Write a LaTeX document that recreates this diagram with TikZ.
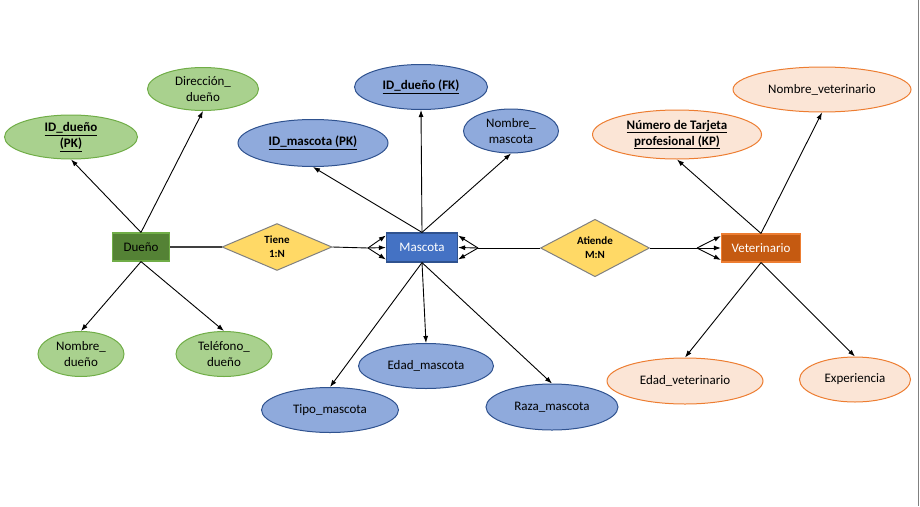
\documentclass[tikz,border=0pt]{standalone}
\usepackage{fontspec}
\setmainfont{Carlito}
\usetikzlibrary{shapes.geometric,arrows.meta}
\definecolor{grfill}{HTML}{A9D18E}
\definecolor{grline}{HTML}{70AD47}
\definecolor{grdark}{HTML}{548235}
\definecolor{blfill}{HTML}{8FAADC}
\definecolor{blline}{HTML}{2F528F}
\definecolor{bldark}{HTML}{4472C4}
\definecolor{orfill}{HTML}{FBE5D6}
\definecolor{orline}{HTML}{ED7D31}
\definecolor{ordark}{HTML}{C55A11}
\definecolor{relfill}{HTML}{FFD966}
\begin{document}
\begin{tikzpicture}[x=1pt, y=-1pt, line width=0.9pt, font=\fontsize{13}{16}\selectfont,
  ent/.style = {draw, rectangle, line width=1.2pt, minimum height=28pt},
  attr/.style = {draw, ellipse, align=center, inner sep=0pt, line width=1pt},
  grattr/.style = {attr, fill=grfill, draw=grline},
  blattr/.style = {attr, fill=blfill, draw=blline},
  orattr/.style = {attr, fill=orfill, draw=orline},
  key/.style = {font=\fontsize{13}{16}\selectfont\bfseries},
  rel/.style = {draw=gray, diamond, fill=relfill, align=center, inner sep=0pt, line width=1pt,
    font=\fontsize{11}{14}\selectfont\bfseries, minimum width=110pt, minimum height=46pt},
  arr/.style = {-{Latex[length=7pt,width=5pt]}}]
\useasboundingbox (0,0) rectangle (920,506);
\draw[gray, line width=1pt] (918.5,0) -- (918.5,506);

% Dueño
\node[ent, fill=grdark, draw=grline, minimum width=57pt] (dueno) at (141,247) {Dueño};
\node[grattr, key, minimum width=133pt, minimum height=44pt] (idd) at (71,137) {\underline{ID\_dueño}\\\underline{(PK)}};
\node[grattr, minimum width=111pt, minimum height=43pt] (dir) at (203,89) {Dirección\_\\dueño};
\node[grattr, minimum width=86pt, minimum height=45pt] (nomd) at (81,354) {Nombre\_\\dueño};
\node[grattr, minimum width=96pt, minimum height=45pt] (tel) at (224,354) {Teléfono\_\\dueño};

% Mascota
\node[ent, fill=bldark, draw=blline, text=white, minimum width=71pt, minimum height=29pt] (masc) at (422,247.5) {Mascota};
\node[blattr, key, minimum width=133pt, minimum height=45pt] (idfk) at (421,87) {\underline{ID\_dueño (FK)}};
\node[blattr, key, minimum width=150pt, minimum height=47pt] (idm) at (313,143) {\underline{ID\_mascota (PK)}};
\node[blattr, minimum width=95pt, minimum height=44pt] (nomm) at (511,131) {Nombre\_\\mascota};
\node[blattr, minimum width=135pt, minimum height=45pt] (edm) at (426,366) {Edad\_mascota};
\node[blattr, minimum width=137pt, minimum height=45pt] (tipo) at (330,410) {Tipo\_mascota};
\node[blattr, minimum width=132pt, minimum height=46pt] (raza) at (552,407) {Raza\_mascota};

% Veterinario
\node[ent, fill=ordark, draw=orline, text=white, minimum width=79pt] (vet) at (761,248) {Veterinario};
\node[orattr, key, minimum width=169pt, minimum height=49pt] (ntp) at (677,134.5) {\underline{Número de Tarjeta}\\\underline{profesional (KP)}};
\node[orattr, minimum width=178pt, minimum height=45pt] (nomv) at (822,89.5) {Nombre\_veterinario};
\node[orattr, minimum width=156pt, minimum height=46pt] (edv) at (685,381) {Edad\_veterinario};
\node[orattr, minimum width=111pt, minimum height=45pt] (exp) at (855,379.5) {Experiencia};

% relaciones
\node[rel] (tiene) at (277,247) {Tiene\\1:N};
\node[rel, minimum width=109pt, minimum height=45pt] (atiende) at (595,248) {Atiende\\M:N};

\draw[arr] (dueno.north) -- (idd.south);
\draw[arr] (dueno.north) -- (dir.south);
\draw[arr] (dueno.south) -- (nomd.north);
\draw[arr] (dueno.south) -- (tel.north);
\draw[arr] (masc.north) -- (idm.south);
\draw[arr] (masc.north) -- (idfk.south);
\draw[arr] (masc.north) -- (nomm.south);
\draw[arr] (masc.south) -- (tipo.north);
\draw[arr] (masc.south) -- (edm.north);
\draw[arr] (masc.south) -- (raza.north);
\draw[arr] (vet.north) -- (ntp.south);
\draw[arr] (vet.north) -- (nomv.south);
\draw[arr] (vet.south) -- (edv.north);
\draw[arr] (vet.south) -- (exp.north);

\draw[line width=1.3pt, black!75] (dueno.east) -- (tiene.west);
\coordinate (c1) at (368,248);
\coordinate (c2) at (478,248);
\coordinate (c3) at (697,248);
\draw (tiene.east) -- (c1);
\draw (c2) -- (atiende.west);
\draw (atiende.east) -- (c3);
\foreach \s in {-12,0,12} {
  \draw[arr] (c1) -- ([yshift=\s pt]masc.west);
  \draw[arr] (c2) -- ([yshift=\s pt]masc.east);
  \draw[arr] (c3) -- ([yshift=\s pt]vet.west);
}
\end{tikzpicture}
\end{document}
